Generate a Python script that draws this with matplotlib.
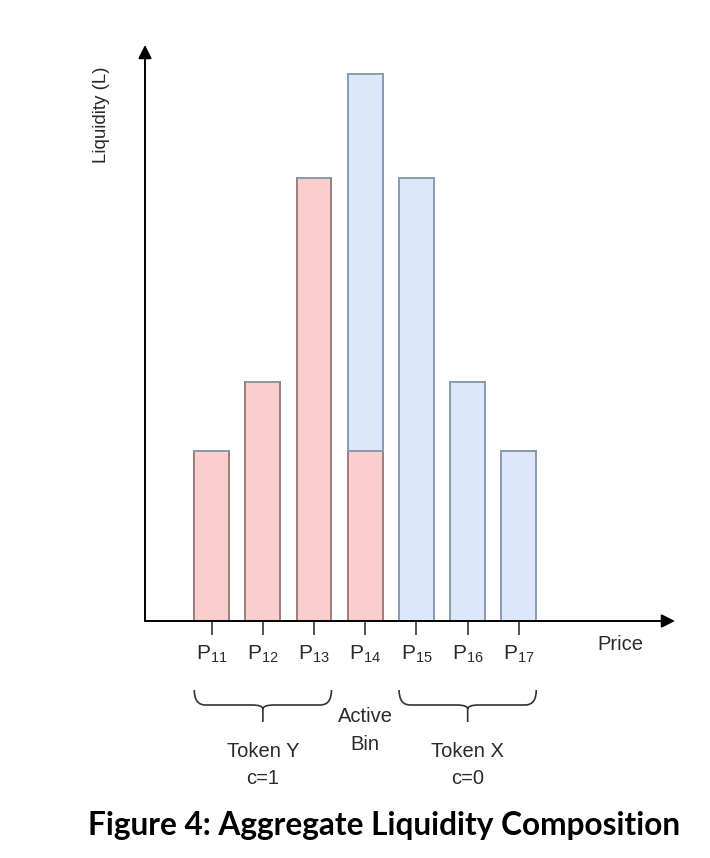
import matplotlib
matplotlib.use("Agg")
import matplotlib.pyplot as plt
from matplotlib.path import Path
from matplotlib.patches import PathPatch
import matplotlib.transforms as mtransforms

plt.rcParams['font.family'] = ['Liberation Sans', 'DejaVu Sans']
plt.rcParams['mathtext.fontset'] = 'custom'
plt.rcParams['mathtext.rm'] = 'Liberation Sans'

# data
bins = ['11', '12', '13', '14', '15', '16', '17']
token_y = [1.70, 2.39, 4.43, 1.70, 0, 0, 0]     # red part (token Y)
token_x = [0, 0, 0, 3.77, 4.43, 2.39, 1.70]     # blue part (token X)
groups = [("Token Y\nc=1", 0, 2), ("Token X\nc=0", 4, 6)]

W, H = 710, 858
fig = plt.figure(figsize=(W / 100, H / 100), dpi=100)
# axes placed so the origin sits where the reference's arrows meet
ax = fig.add_axes([145 / W, 1 - 621 / H, (675 - 145) / W, (621 - 45) / H])
ax.set_xlim(-1.303, 9.05)
ax.set_ylim(0, 5.76)

x = list(range(len(bins)))
ax.bar(x, token_y, width=0.68, color='#f9cecd', edgecolor='#a07c7c', linewidth=1.4)
ax.bar(x, token_x, width=0.68, bottom=token_y, color='#dbe8fc', edgecolor='#8a9ab3', linewidth=1.4)

for s in ax.spines.values():
    s.set_visible(False)
ax.set_yticks([])
ax.set_xticks(x)
ax.set_xticklabels([r'P$_{\mathrm{%s}}$' % b for b in bins], fontsize=15, color='#2a2a2a')
ax.tick_params(axis='x', length=10, width=1.2, color='#333333', pad=6)

# axis arrows
arr = dict(arrowstyle='-|>', color='black', lw=1.4, mutation_scale=20, shrinkA=0, shrinkB=0)
ax.annotate('', xy=(1, 0), xytext=(0, 0), xycoords='axes fraction', arrowprops=arr, annotation_clip=False)
ax.annotate('', xy=(0, 1), xytext=(0, 0), xycoords='axes fraction', arrowprops=arr, annotation_clip=False)

fig.text(620 / W, 1 - 645 / H, 'Price', fontsize=14.5, color='#2a2a2a', ha='center', va='center')
fig.text(102 / W, 1 - 115 / H, 'Liquidity (L)', fontsize=13.5, color='#2a2a2a',
         rotation=90, ha='center', va='center')

# braces under the groups
trans = mtransforms.blended_transform_factory(ax.transData, fig.transFigure)
y_top, y_mid, y_tip = 1 - 690 / H, 1 - 705 / H, 1 - 722 / H
dy = 4 / H
r = 0.22
for label, i0, i1 in groups:
    x0, x1 = i0 - 0.34, i1 + 0.34
    xc = (x0 + x1) / 2
    verts = [(x0, y_top), (x0, y_mid), (x0 + r, y_mid),
             (xc - r, y_mid), (xc, y_mid), (xc, y_mid - dy),
             (xc, y_tip),
             (xc, y_mid - dy), (xc, y_mid), (xc + r, y_mid),
             (x1 - r, y_mid), (x1, y_mid), (x1, y_top)]
    codes = [Path.MOVETO, Path.CURVE3, Path.CURVE3,
             Path.LINETO, Path.CURVE3, Path.CURVE3,
             Path.LINETO,
             Path.MOVETO, Path.CURVE3, Path.CURVE3,
             Path.LINETO, Path.CURVE3, Path.CURVE3]
    fig.add_artist(PathPatch(Path(verts, codes), transform=trans, fill=False,
                             edgecolor='#333333', lw=1.2))
    ax.text(xc, 1 - 765 / H, label, transform=trans, fontsize=14.5, color='#2a2a2a',
            ha='center', va='center', linespacing=1.55)

ax.text(3, 1 - 731 / H, 'Active\nBin', transform=trans, fontsize=14.5, color='#2a2a2a',
        ha='center', va='center', linespacing=1.6)

fig.text(384 / W, 1 - 826 / H, 'Figure 4: Aggregate Liquidity Composition',
         fontsize=22.8, fontweight='bold', family=['Lato', 'DejaVu Sans'],
         ha='center', va='center', color='black')

fig.savefig('out.png', dpi=100)
